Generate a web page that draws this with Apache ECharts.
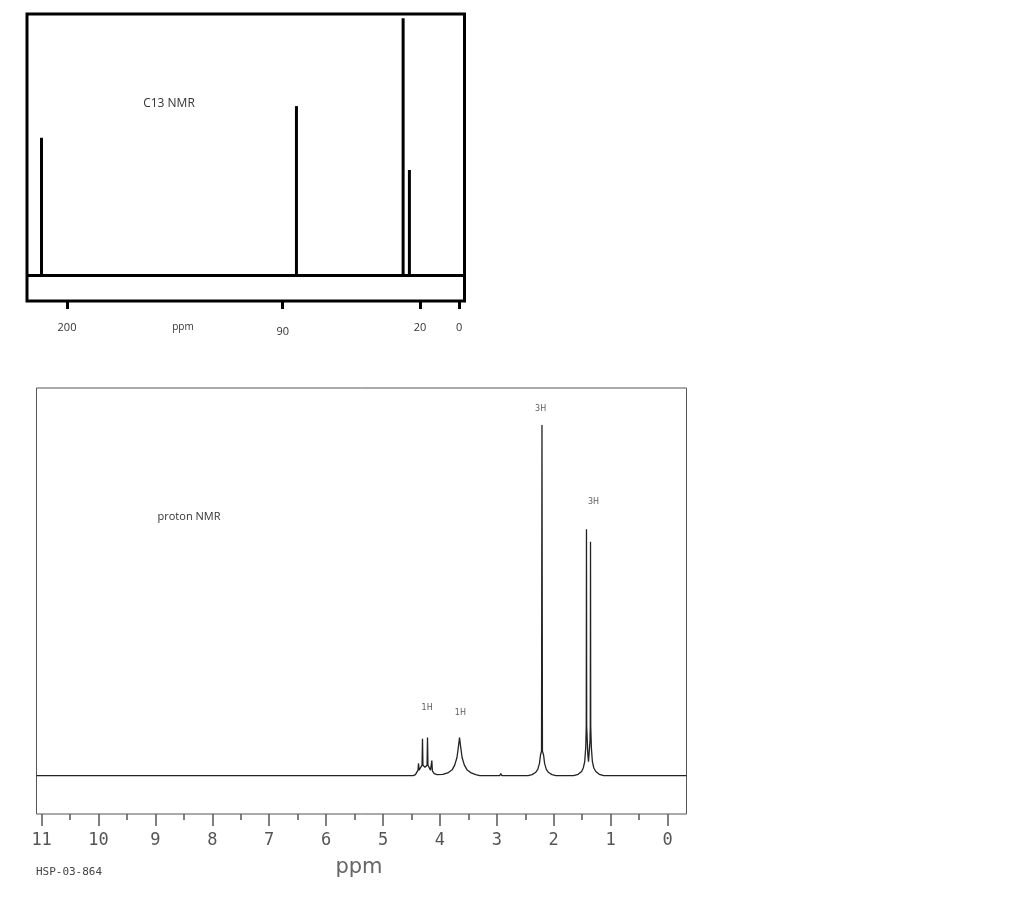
<!DOCTYPE html>
<html>
<head>
<meta charset="utf-8">
<script src="https://cdn.jsdelivr.net/npm/echarts@6/dist/echarts.min.js"></script>
<style>
html,body{margin:0;padding:0;background:#fff;}
#chart{width:1024px;height:902px;}
</style>
</head>
<body>
<div id="chart"></div>
<script>
// ---- C13 NMR (stick spectrum) ----
const c13Shifts = [213, 83, 28.6, 25.4];
const c13Heights = [52.7, 64.8, 98.4, 40.4];
const c13TickValues = [200, 90, 20, 0];

// ---- proton NMR ----
const protonTickValues = [0, 1, 2, 3, 4, 5, 6, 7, 8, 9, 10, 11];
const protonMinorTickValues = [0.5, 1.5, 2.5, 3.5, 4.5, 5.5, 6.5, 7.5, 8.5, 9.5, 10.5];
const protonShifts = [
  11.09, 4.47, 4.43, 4.40, 4.385, 4.376, 4.366, 4.335, 4.314, 4.306, 4.298, 4.262, 4.226, 4.218, 4.210,
  4.165, 4.142, 4.132, 4.10, 4.05, 3.95, 3.85, 3.78, 3.74, 3.70, 3.675, 3.655, 3.635, 3.61, 3.57, 3.52,
  3.45, 3.37, 3.30, 2.95, 2.93, 2.91, 2.45, 2.38, 2.32, 2.28, 2.25, 2.232, 2.214, 2.206, 2.198, 2.178,
  2.16, 2.13, 2.09, 2.03, 1.96, 1.65, 1.57, 1.51, 1.48, 1.455, 1.437, 1.428, 1.424, 1.420, 1.40, 1.388,
  1.375, 1.362, 1.357, 1.353, 1.349, 1.338, 1.32, 1.295, 1.26, 1.20, 1.12, -0.334
];
const protonIntensity = [
  0, 0, 0.3, 0.8, 1.6, 3.5, 1.6, 1.8, 3, 10.5, 3, 2.4, 3, 10.9, 3,
  1.6, 4.3, 1.4, 0.6, 0.3, 0.4, 0.9, 1.8, 3.0, 5.2, 8.2, 10.9, 8.2, 5.2, 3.0, 1.6,
  0.8, 0.3, 0, 0, 0.6, 0, 0, 0.3, 0.9, 1.8, 3.5, 5.9, 7, 100, 7, 5.9,
  3.5, 1.8, 0.9, 0.3, 0, 0, 0.4, 1.2, 2.2, 4, 8, 14, 70.3, 14, 6, 4,
  4.5, 10, 14, 66.7, 14, 8, 4, 2.2, 1.2, 0.4, 0, 0
];
const peakLabels = ['1H', '1H', '3H', '3H'];
const peakLabelShifts = [4.225, 3.64, 2.23, 1.30];
const peakLabelHeights = [19.2, 18.0, 104.6, 78.1];

const chart = echarts.init(document.getElementById('chart'), null, {renderer: 'canvas'});

const option = {
  backgroundColor: '#fff',
  animation: false,
  grid: [
    {left: 27, top: 14, width: 437.5, height: 287, show: true, borderColor: '#000', borderWidth: 3, backgroundColor: 'transparent'},
    {left: 36.5, top: 388, width: 650, height: 426, show: true, borderColor: '#555', borderWidth: 1, backgroundColor: 'transparent'}
  ],
  xAxis: [
    {
      type: 'value', gridIndex: 0, position: 'bottom', min: -2.7, max: 220.4, inverse: true,
      axisLine: {show: false, onZero: false}, splitLine: {show: false},
      axisTick: {show: true, customValues: c13TickValues, length: 8, lineStyle: {color: '#000', width: 3}},
      axisLabel: {
        show: true, customValues: c13TickValues, margin: 21, color: '#333', fontSize: 11,
        fontFamily: 'Open Sans',
        formatter: function (v) { return v === 90 ? '{low|90}' : String(v); },
        rich: {low: {padding: [4, 0, 0, 0], fontSize: 11, color: '#333', fontFamily: 'Open Sans'}}
      }
    },
    {
      type: 'value', gridIndex: 1, position: 'bottom', min: -0.334, max: 11.09, inverse: true,
      axisLine: {show: false, onZero: false}, splitLine: {show: false},
      axisTick: {show: true, customValues: protonTickValues, length: 12, lineStyle: {color: '#555', width: 1.5}},
      axisLabel: {show: true, customValues: protonTickValues, margin: 18, color: '#555', fontSize: 17, fontFamily: 'DejaVu Sans Mono'}
    },
    {
      type: 'value', gridIndex: 1, position: 'bottom', min: -0.334, max: 11.09, inverse: true,
      axisLine: {show: false, onZero: false}, splitLine: {show: false},
      axisTick: {show: true, customValues: protonMinorTickValues, length: 6, lineStyle: {color: '#555', width: 1.5}},
      axisLabel: {show: false}
    }
  ],
  yAxis: [
    {type: 'value', gridIndex: 0, min: -9.67, max: 100, show: false, splitLine: {show: false}},
    {type: 'value', gridIndex: 1, min: -10.92, max: 110.55, show: false, splitLine: {show: false}}
  ],
  graphic: [
    {type: 'text', x: 169, y: 104, style: {text: 'C13 NMR', font: '12px "Open Sans"', fill: '#333', textAlign: 'center', align: 'center', textVerticalAlign: 'middle', verticalAlign: 'middle'}},
    {type: 'text', x: 183, y: 327, style: {text: 'ppm', font: '10px "Open Sans"', fill: '#333', textAlign: 'center', align: 'center', textVerticalAlign: 'middle', verticalAlign: 'middle'}},
    {type: 'text', x: 189, y: 517, style: {text: 'proton NMR', font: '11px "Open Sans"', fill: '#333', textAlign: 'center', align: 'center', textVerticalAlign: 'middle', verticalAlign: 'middle'}},
    {type: 'text', x: 359, y: 868, style: {text: 'ppm', font: '21px "DejaVu Sans"', fill: '#666', textAlign: 'center', align: 'center', textVerticalAlign: 'middle', verticalAlign: 'middle'}},
    {type: 'text', x: 69, y: 872, style: {text: 'HSP-03-864', font: '11px "DejaVu Sans Mono"', fill: '#444', textAlign: 'center', align: 'center', textVerticalAlign: 'middle', verticalAlign: 'middle'}}
  ],
  series: [
    {
      type: 'bar', xAxisIndex: 0, yAxisIndex: 0, barWidth: 3,
      itemStyle: {color: '#000'},
      data: c13Shifts.map((s, i) => [s, c13Heights[i]]),
      markLine: {
        silent: true, symbol: 'none', label: {show: false},
        lineStyle: {color: '#000', width: 3, type: 'solid'},
        data: [{yAxis: 0}]
      }
    },
    {
      type: 'line', xAxisIndex: 1, yAxisIndex: 1, showSymbol: false, symbol: 'none',
      lineStyle: {color: '#222', width: 1.3},
      data: protonShifts.map((s, i) => [s, protonIntensity[i]])
    },
    {
      type: 'scatter', xAxisIndex: 1, yAxisIndex: 1, symbolSize: 0,
      label: {show: true, position: 'inside', formatter: p => p.name, fontSize: 8, color: '#333', fontFamily: 'DejaVu Sans'},
      data: peakLabels.map((t, i) => ({name: t, value: [peakLabelShifts[i], peakLabelHeights[i]]}))
    }
  ]
};
chart.setOption(option);
</script>
</body>
</html>
